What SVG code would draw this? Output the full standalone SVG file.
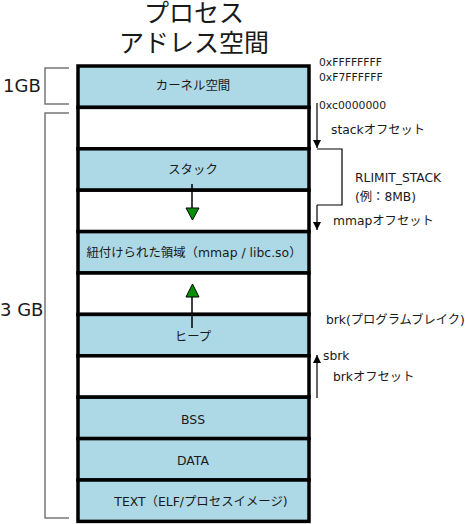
<svg xmlns="http://www.w3.org/2000/svg" width="465" height="524" viewBox="0 0 465 524">
<style>
text{font-family:"DejaVu Sans","Noto Sans CJK JP",sans-serif;fill:#1a1a1a}
.seg{stroke:#000;stroke-width:3.5}
.b{fill:#add8e6}
.w{fill:#fff}
.lbl{font-size:12.4px;text-anchor:middle}
.side{font-size:12.3px}
.addr{font-size:10.8px}
.brk{fill:none;stroke:#777;stroke-width:1.5}
.ln{stroke:#000;stroke-width:1.2;fill:none}
.g{fill:#009000;stroke:#000;stroke-width:1}
</style>
<defs>
<marker id="ah" markerWidth="8" markerHeight="8" refX="8" refY="4" orient="auto" markerUnits="userSpaceOnUse" viewBox="0 0 8 8">
<path d="M0,0 L8,4 L0,8 Z" fill="#000"/>
</marker>
</defs>
<g id="title">
<text x="194" y="22" font-size="25" text-anchor="middle">プロセス</text>
<text x="194" y="52" font-size="25" text-anchor="middle">アドレス空間</text>
</g>
<g id="kernel"><rect class="seg b" x="78" y="66" width="231" height="41.4"/><text class="lbl" x="193" y="90">カーネル空間</text></g>
<g id="gap1"><rect class="seg w" x="78" y="107.4" width="231" height="41.4"/></g>
<g id="stack"><rect class="seg b" x="78" y="148.8" width="231" height="41.4"/><text class="lbl" x="193" y="174">スタック</text></g>
<g id="gap2"><rect class="seg w" x="78" y="190.2" width="231" height="41.4"/></g>
<g id="mmap"><rect class="seg b" x="78" y="231.6" width="231" height="41.4"/><text class="lbl" x="194" y="257">紐付けられた領域（mmap / libc.so）</text></g>
<g id="gap3"><rect class="seg w" x="78" y="273" width="231" height="41.4"/></g>
<g id="heap"><rect class="seg b" x="78" y="314.4" width="231" height="41.4"/><text class="lbl" x="193" y="341">ヒープ</text></g>
<g id="gap4"><rect class="seg w" x="78" y="355.8" width="231" height="41.4"/></g>
<g id="bss"><rect class="seg b" x="78" y="397.2" width="231" height="41.4"/><text class="lbl" x="193" y="424">BSS</text></g>
<g id="data"><rect class="seg b" x="78" y="438.6" width="231" height="41.4"/><text class="lbl" x="193" y="465">DATA</text></g>
<g id="text"><rect class="seg b" x="78" y="480" width="231" height="41.4"/><text class="lbl" x="201" y="506">TEXT（ELF/プロセスイメージ)</text></g>
<g id="sizes">
<path class="brk" d="M69,68 H45 V104 H69"/>
<text x="3" y="92" font-size="18">1GB</text>
<path class="brk" d="M69,113 H45 V518 H69"/>
<text x="0" y="316" font-size="18">3 GB</text>
</g>
<g id="labels">
<text class="addr" x="319" y="66">0xFFFFFFFF</text>
<text class="addr" x="319" y="81">0xF7FFFFFF</text>
<text class="addr" x="319" y="109">0xc0000000</text>
<text class="side" x="331" y="134">stackオフセット</text>
<text class="side" x="355" y="182">RLIMIT_STACK</text>
<text class="side" x="355" y="201">(例：8MB)</text>
<text class="side" x="333" y="225">mmapオフセット</text>
<text class="side" x="326" y="324">brk(プログラムブレイク)</text>
<text class="side" x="323" y="360">sbrk</text>
<text class="side" x="333" y="381">brkオフセット</text>
</g>
<g id="connectors">
<path class="ln" d="M317,103 V148" marker-end="url(#ah)"/>
<path class="ln" d="M317,149 H342 V205 H317"/>
<path class="ln" d="M317,205 V230" marker-end="url(#ah)"/>
<path class="ln" d="M317,398 V355" marker-end="url(#ah)"/>
<path d="M192,184 V208" stroke="#000" stroke-width="1.5"/>
<path class="g" d="M186,208 H199 L192.5,220 Z"/>
<path d="M192,297 V328" stroke="#000" stroke-width="1.5"/>
<path class="g" d="M186,297 H199 L192.5,284 Z"/>
</g>
</svg>
